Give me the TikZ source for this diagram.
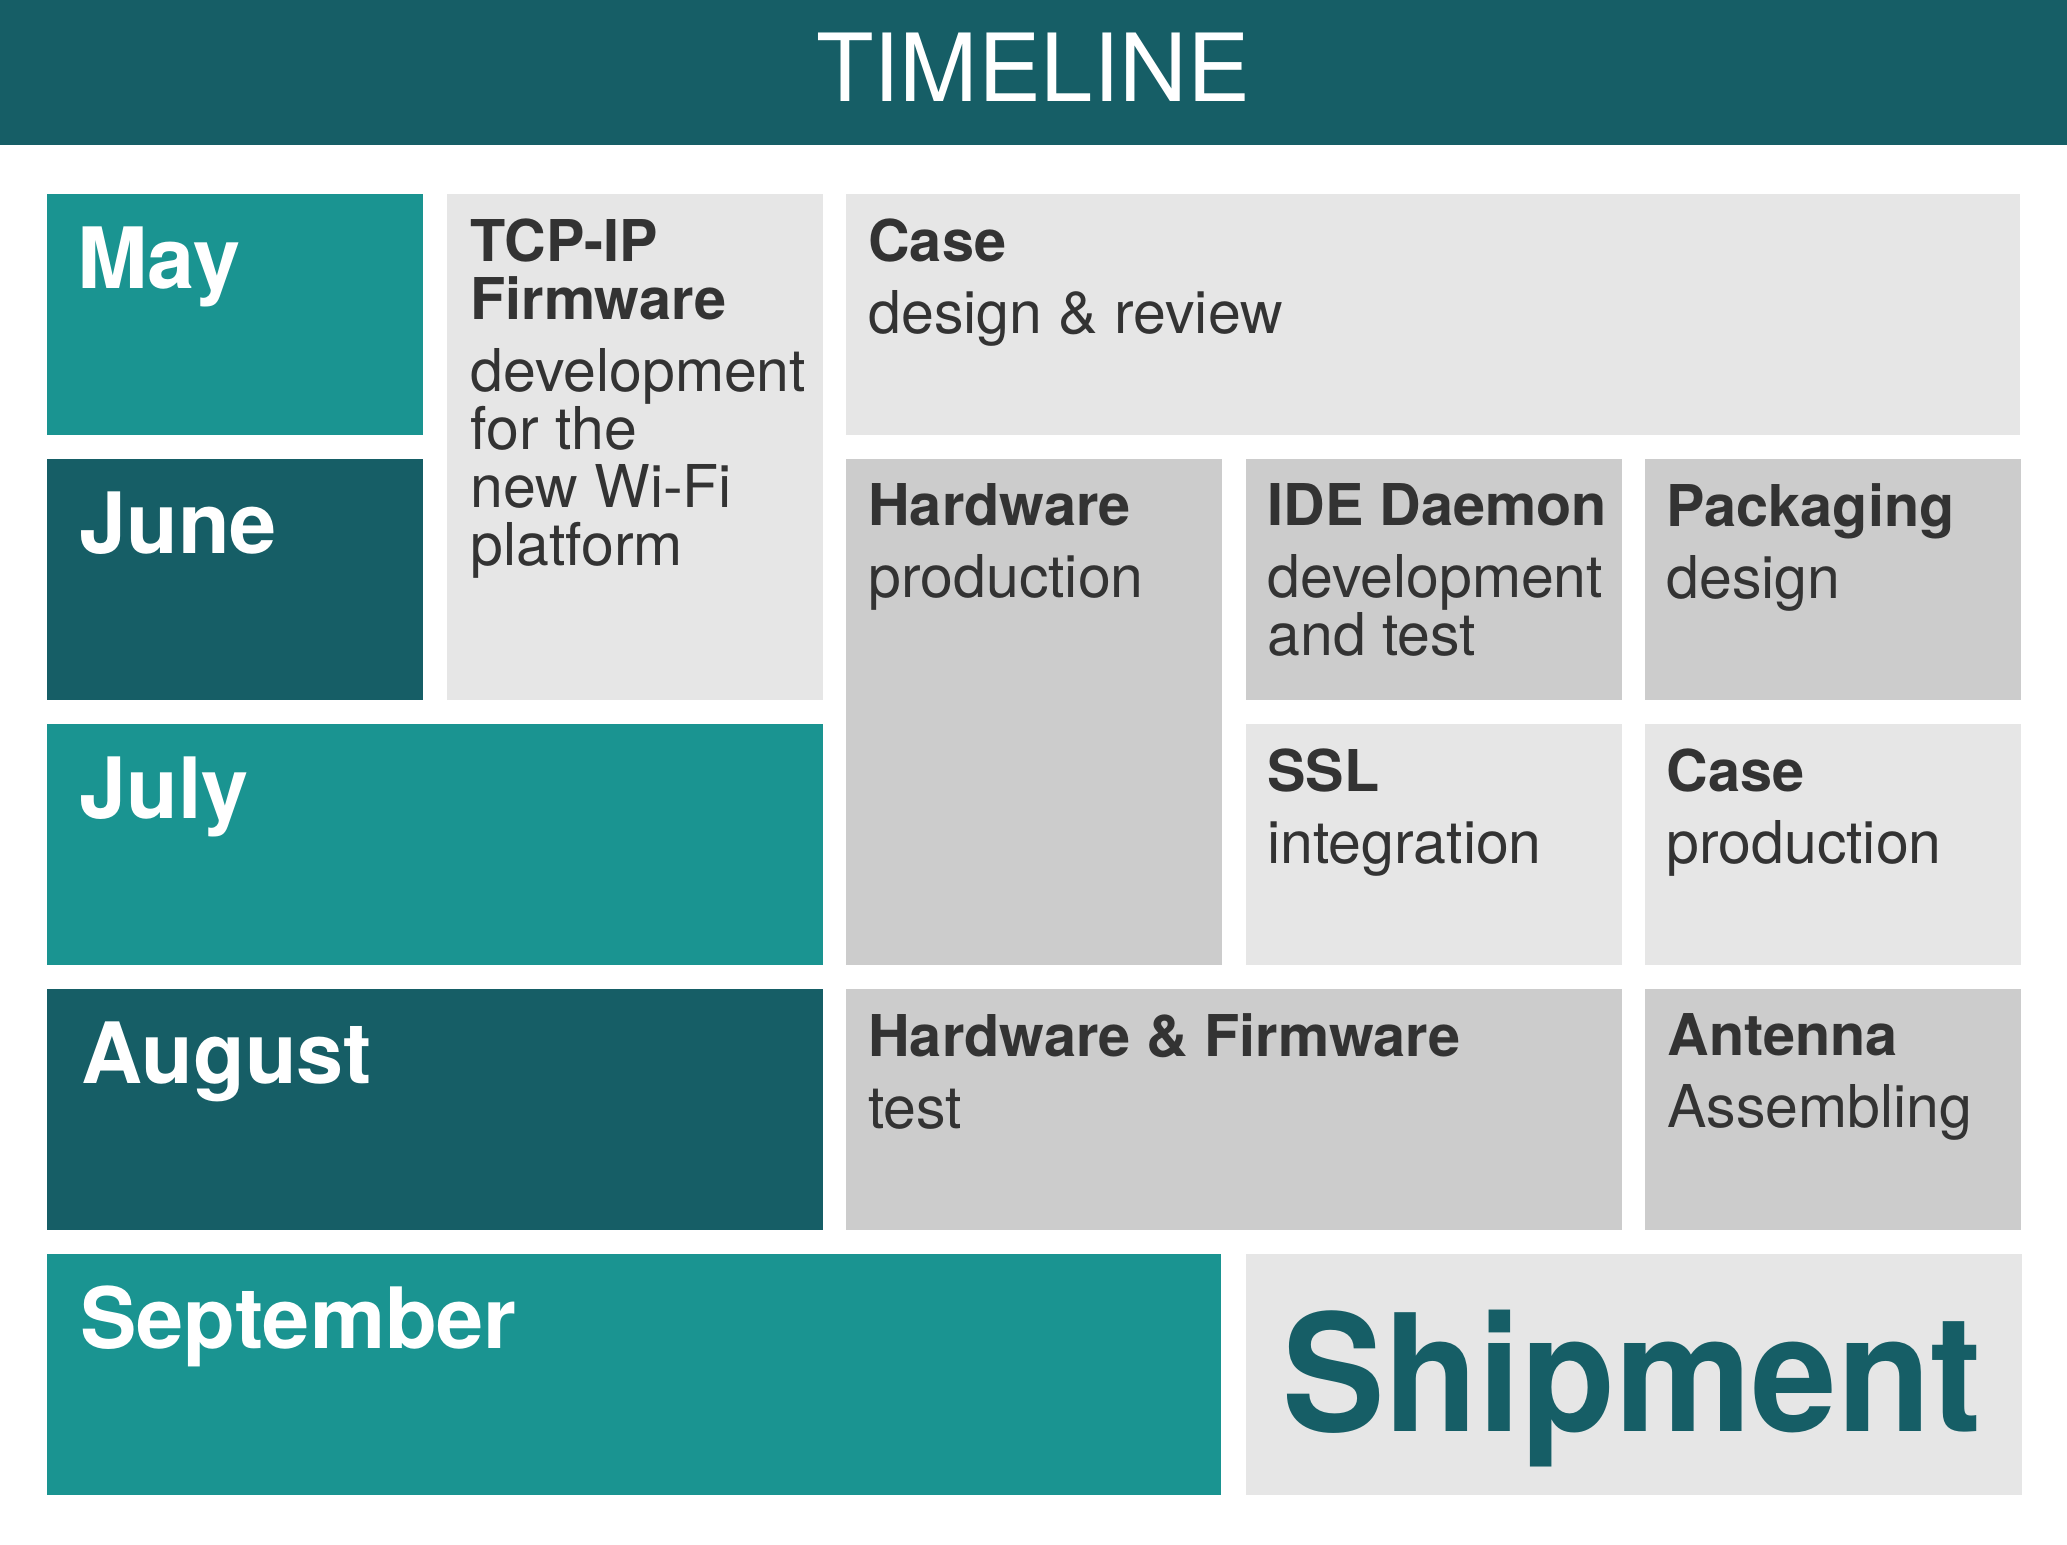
\documentclass[tikz,border=0pt]{standalone}
\usepackage{fontspec}
\setmainfont{TeX Gyre Heros}
\usetikzlibrary{calc,positioning}
\definecolor{tealA}{HTML}{1A9491}
\definecolor{tealB}{HTML}{165E66}
\definecolor{grayL}{HTML}{E6E6E6}
\definecolor{grayM}{HTML}{CCCCCC}
\definecolor{txt}{HTML}{333333}
\newcommand{\tasktitle}[1]{{\fontsize{28.8}{29}\selectfont\bfseries #1}}

\begin{document}
\begin{tikzpicture}[
    x=0.5pt, y=-0.5pt,
    cell/.style={rectangle, inner sep=0pt, anchor=north west, minimum width=188pt, minimum height=120.5pt},
    wide/.style={minimum width=388pt},
    wider/.style={minimum width=587pt},
    tall/.style={minimum height=253pt},
    month/.style={anchor=base west, inner sep=0pt, text=white, font=\fontsize{42.3}{44}\selectfont\bfseries},
    task/.style={anchor=north west, inner sep=0pt, align=left, text=txt, font=\fontsize{29.5}{29}\selectfont},
]
    \useasboundingbox (0,0) rectangle (2067,1544);
    \fill[white] (0,0) rectangle (2067,1544);

    % Header
    \node[rectangle, fill=tealB, inner sep=0pt, anchor=north west, minimum width=1033.5pt, minimum height=72.5pt] (header) at (0,0) {};
    \node[anchor=base, inner sep=0pt, text=white, font=\fontsize{47}{50}\selectfont] (title) at (1033,101) {TIMELINE};

    % Months
    \node[cell, fill=tealA] (may) at (47,194) {};
    \node[month] (mayT) at ($(may.north west)+(30,94)$) {May};
    \node[cell, fill=tealB] (june) at (47,459) {};
    \node[month] (juneT) at ($(june.north west)+(32,94)$) {June};
    \node[cell, wide, fill=tealA] (july) at (47,724) {};
    \node[month] (julyT) at ($(july.north west)+(32,94)$) {July};
    \node[cell, wide, fill=tealB] (aug) at (47,989) {};
    \node[month] (augT) at ($(aug.north west)+(34,94)$) {August};
    \node[cell, wider, fill=tealA] (sep) at (47,1254) {};
    \node[month] (sepT) at ($(sep.north west)+(33,94)$) {September};

    % Firmware column
    \node[cell, tall, fill=grayL] (tcp) at (447,194) {};
    \node[task] (tcpT) at ($(tcp.north west)+(23,24)$) {\tasktitle{TCP-IP}\\\tasktitle{Firmware}\\[7pt]development\\for the\\new Wi-Fi\\platform};

    % Case design (top row)
    \node[cell, wider, fill=grayL] (case) at (846,194) {};
    \node[task] (caseT) at ($(case.north west)+(22,24)$) {\tasktitle{Case}\\[7pt]design \& review};

    % Hardware
    \node[cell, tall, fill=grayM] (hw) at (846,459) {};
    \node[task] (hwT) at ($(hw.north west)+(22,24)$) {\tasktitle{Hardware}\\[7pt]production};

    % IDE daemon and SSL
    \node[cell, fill=grayM] (ide) at (1246,459) {};
    \node[task] (ideT) at ($(ide.north west)+(21,24)$) {\tasktitle{IDE Daemon}\\[7pt]development\\and test};
    \node[cell, fill=grayL] (ssl) at (1246,724) {};
    \node[task] (sslT) at ($(ssl.north west)+(21,24)$) {\tasktitle{SSL}\\[7pt]integration};

    % Packaging and case production
    \node[cell, fill=grayM] (pack) at (1645,459) {};
    \node[task] (packT) at ($(pack.north west)+(21,24)$) {\tasktitle{Packaging}\\[7pt]design};
    \node[cell, fill=grayL] (caseprod) at (1645,724) {};
    \node[task] (caseprodT) at ($(caseprod.north west)+(21,24)$) {\tasktitle{Case}\\[7pt]production};

    % Tests
    \node[cell, wide, fill=grayM] (test) at (846,989) {};
    \node[task] (testT) at ($(test.north west)+(22,24)$) {\tasktitle{Hardware \& Firmware}\\[7pt]test};
    \node[cell, fill=grayM] (ant) at (1645,989) {};
    \node[task] (antT) at ($(ant.north west)+(22,24)$) {\tasktitle{Antenna}\\[7pt]Assembling};

    % Shipment
    \node[cell, wide, fill=grayL] (ship) at (1246,1254) {};
    \node[anchor=base west, inner sep=0pt, text=tealB, font=\fontsize{81.5}{84}\selectfont\bfseries] (shipT) at ($(ship.north west)+(36,177)$) {\scalebox{0.942}[1]{Shipment}};
\end{tikzpicture}
\end{document}
